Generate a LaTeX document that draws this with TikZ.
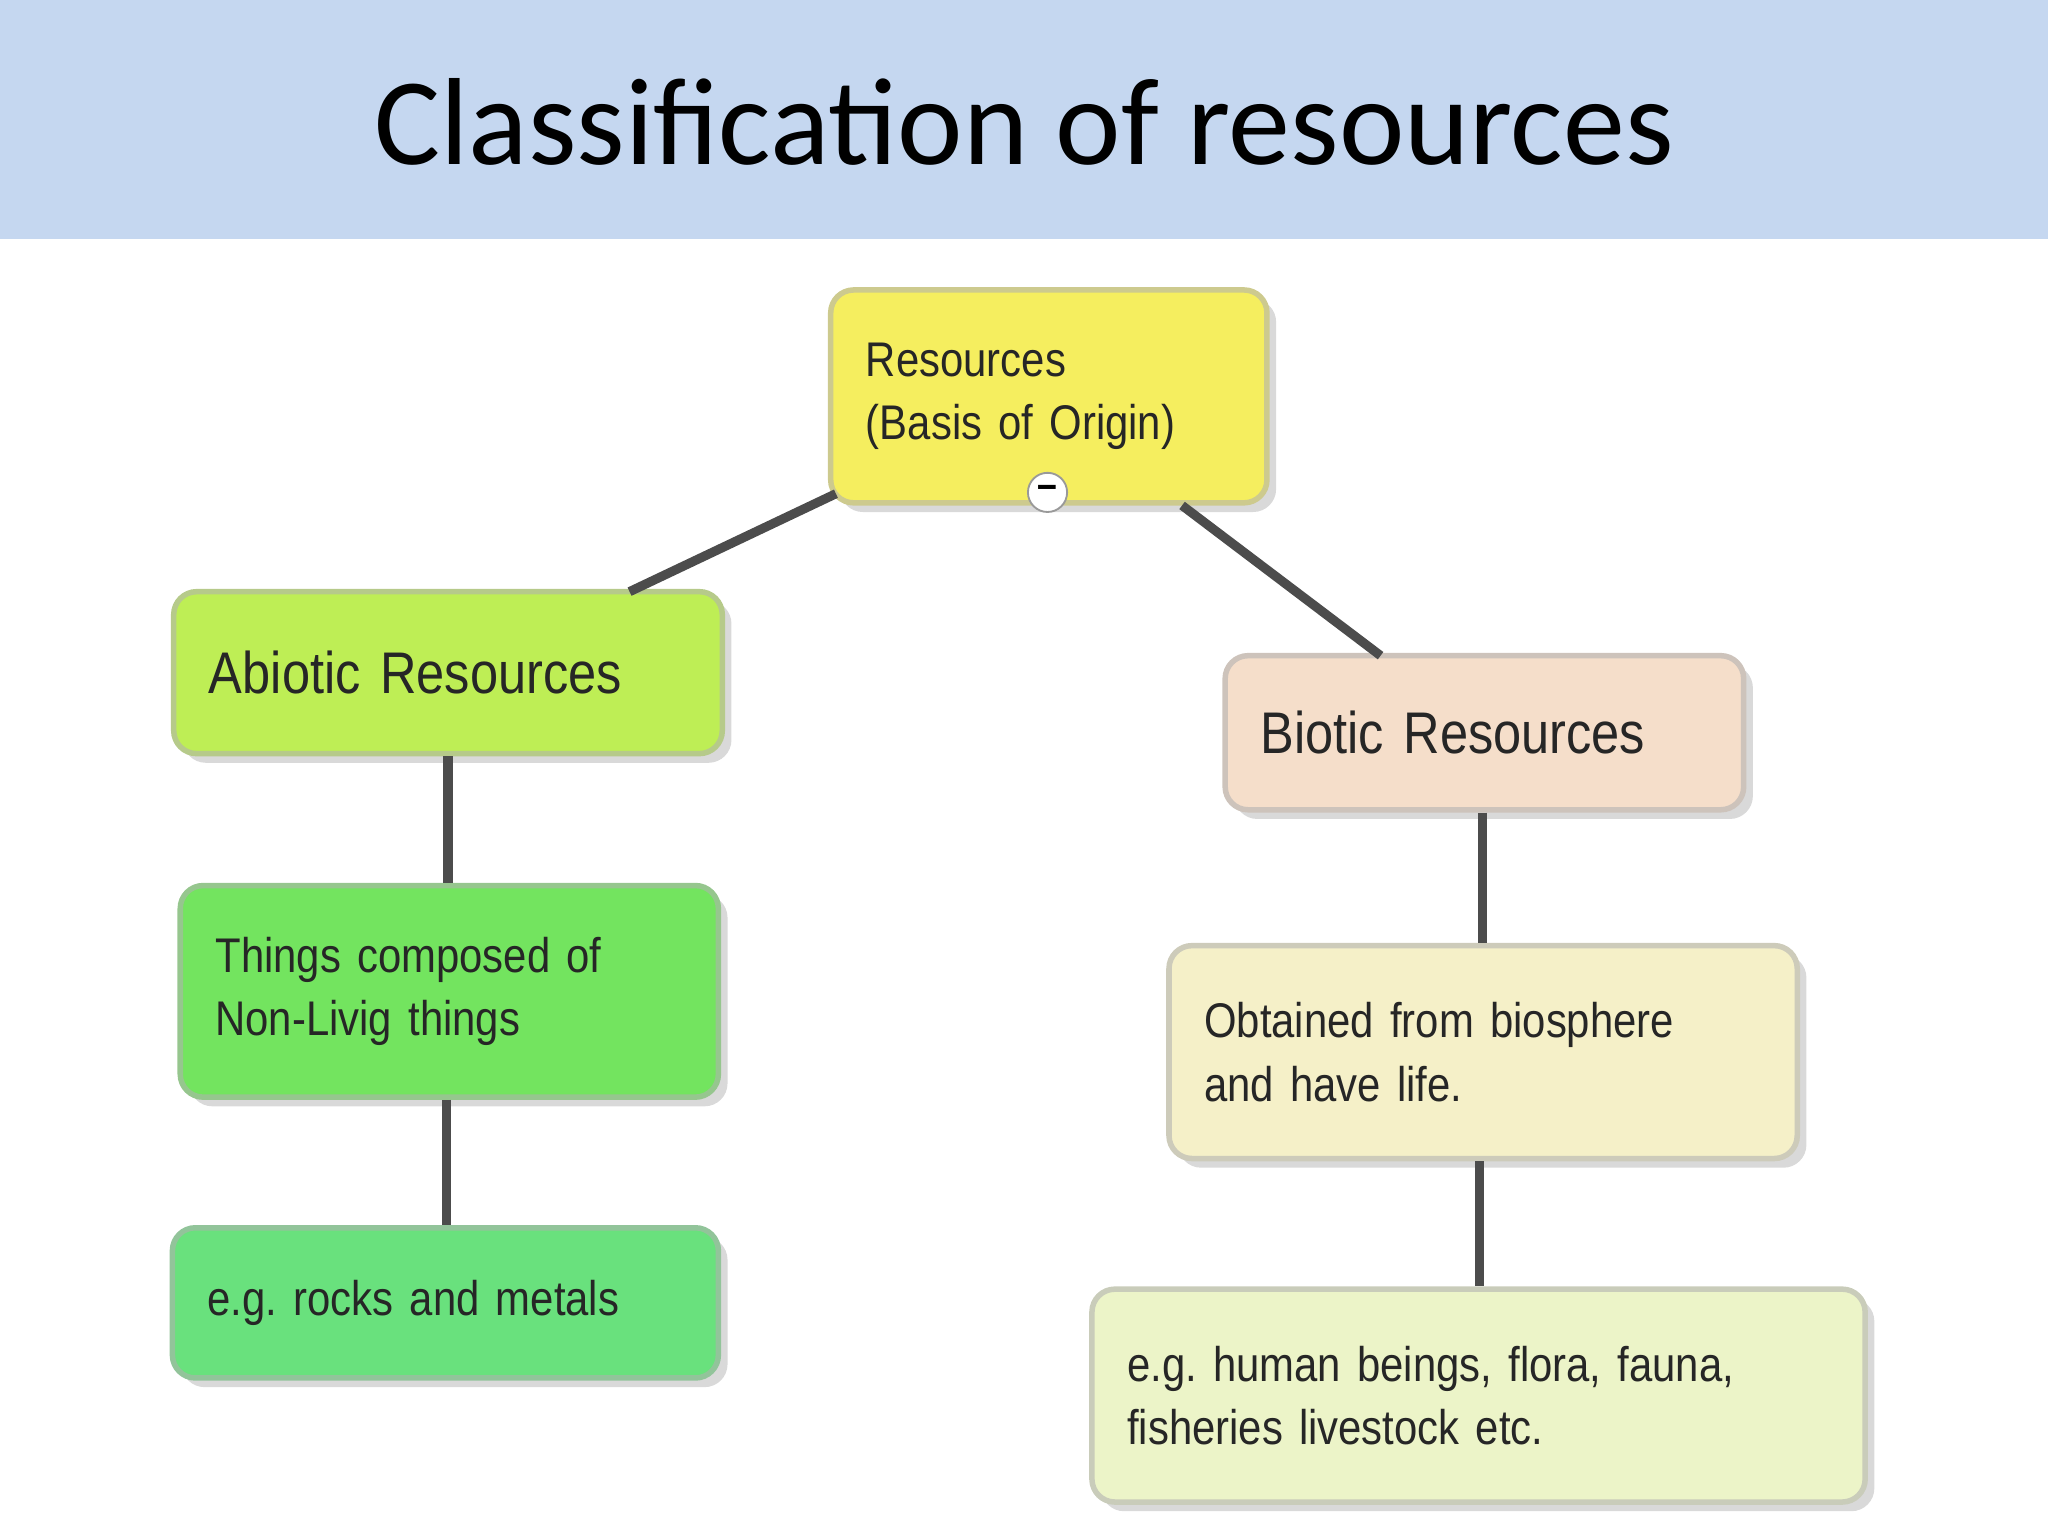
\documentclass[tikz,border=0pt]{standalone}
\usepackage{fontspec}
\setmainfont{Liberation Sans}[FakeStretch=0.86]
\newfontfamily\titlefont{Carlito}
\usetikzlibrary{shadows,calc}
\frenchspacing
\definecolor{titlebg}{RGB}{197,215,240}
\tikzset{
 cbox/.style={draw=#1!70!black!60, line width=1.2pt, rounded corners=5pt, drop shadow={shadow xshift=2pt,shadow yshift=-2pt,opacity=0.3},
   inner xsep=0.27cm, align=left, anchor=center, font=\fontsize{10.6}{13.8}\selectfont, text=black!85},
 big/.style={font=\fontsize{12.8}{15}\selectfont},
 link/.style={draw=black!70, line width=2pt}
}
\definecolor{cres}{RGB}{245,238,95}
\definecolor{cabi}{RGB}{190,238,85}
\definecolor{cthi}{RGB}{115,228,95}
\definecolor{crock}{RGB}{105,225,125}
\definecolor{cbio}{RGB}{245,222,202}
\definecolor{cobt}{RGB}{245,240,200}
\definecolor{chum}{RGB}{236,244,200}
\begin{document}
\begin{tikzpicture}
\useasboundingbox (0,0) rectangle (15.68,-11.76);
\fill[titlebg] (0,0) rectangle (15.68,-1.83);
\node (title) at (7.84,-0.93) {\titlefont\fontsize{27}{32}\selectfont Classification of resources};
\node[cbox=cres, fill=cres, minimum width=3.34cm, minimum height=1.63cm, text width=2.8cm] (res) at (8.03,-3.035) {Resources\\(Basis of Origin)};
\node[cbox=cabi, fill=cabi, minimum width=4.2cm, minimum height=1.24cm, text width=3.66cm, big] (abi) at (3.43,-5.15) {Abiotic Resources};
\node[cbox=cthi, fill=cthi, minimum width=4.12cm, minimum height=1.62cm, text width=3.58cm] (thi) at (3.44,-7.59) {Things composed of\\Non-Livig things};
\node[cbox=crock, fill=crock, minimum width=4.18cm, minimum height=1.15cm, text width=3.64cm] (rock) at (3.41,-9.975) {e.g. rocks and metals};
\node[cbox=cbio, fill=cbio, minimum width=3.97cm, minimum height=1.18cm, text width=3.43cm, big] (bio) at (11.365,-5.61) {Biotic Resources};
\node[cbox=cobt, fill=cobt, minimum width=4.81cm, minimum height=1.63cm, text width=4.27cm] (obt) at (11.355,-8.055) {Obtained from biosphere\\and have life.};
\node[cbox=chum, fill=chum, minimum width=5.92cm, minimum height=1.63cm, text width=5.38cm] (hum) at (11.32,-10.685) {e.g. human beings, flora, fauna,\\fisheries livestock etc.};
\node[circle, draw=black!40, fill=white, inner sep=0pt, minimum size=0.3cm, font=\bfseries\small] (minus) at (8.02,-3.77) {--};
\coordinate (a1) at (6.40,-3.78); \coordinate (a2) at (4.82,-4.53);
\coordinate (b1) at (9.05,-3.87); \coordinate (b2) at (10.57,-5.02);
\draw[link] (a1) -- (a2);
\draw[link] (b1) -- (b2);
\draw[link] (abi.south -| 3.43,0) -- (thi.north -| 3.43,0);
\draw[link] (thi.south -| 3.42,0) -- (rock.north -| 3.42,0);
\draw[link] (bio.south -| 11.35,0) -- (obt.north -| 11.35,0);
\draw[link] (obt.south -| 11.33,0) -- (hum.north -| 11.33,0);
\end{tikzpicture}
\end{document}
